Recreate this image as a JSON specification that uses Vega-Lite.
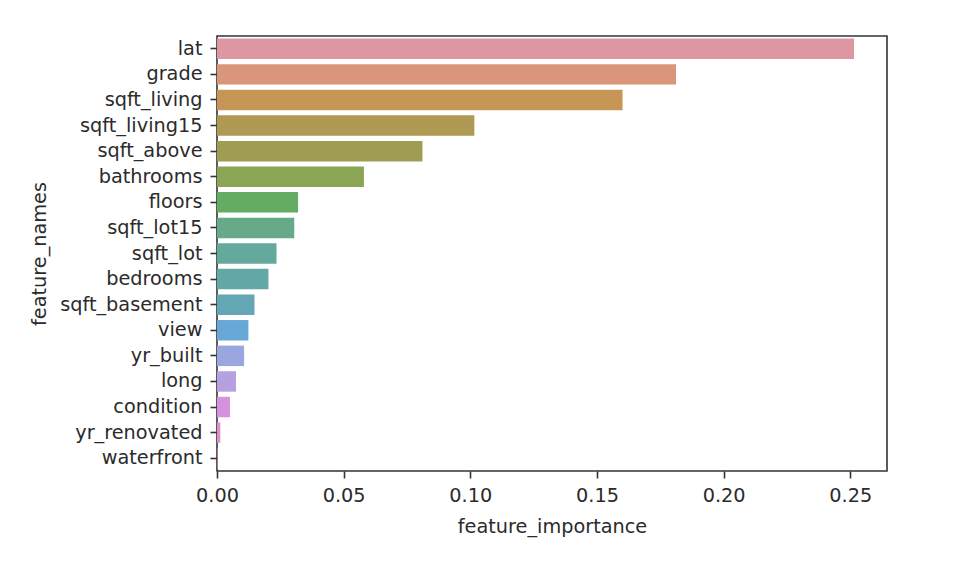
{
  "$schema": "https://vega.github.io/schema/vega-lite/v6.json",
  "autosize": {"type": "none"},
  "width": 670,
  "height": 435,
  "padding": {"left": 217, "top": 36, "right": 79, "bottom": 95},
  "background": "white",
  "config": {
    "font": "DejaVu Sans",
    "view": {"stroke": "#333333", "strokeWidth": 1.6},
    "axis": {
      "labelFont": "DejaVu Sans",
      "titleFont": "DejaVu Sans",
      "labelFontSize": 19.3,
      "titleFontSize": 19.3,
      "titleFontWeight": "normal",
      "labelColor": "#2b2b2b",
      "titleColor": "#2b2b2b",
      "tickColor": "#333333",
      "tickWidth": 1.6,
      "tickSize": 7,
      "labelPadding": 8,
      "labelFlush": false,
      "domain": false,
      "grid": false
    }
  },
  "data": {
    "values": [
      {"feature_names": "lat", "feature_importance": 0.2515, "colour": "#dd97a2"},
      {"feature_names": "grade", "feature_importance": 0.1812, "colour": "#d9967b"},
      {"feature_names": "sqft_living", "feature_importance": 0.1601, "colour": "#c69657"},
      {"feature_names": "sqft_living15", "feature_importance": 0.1016, "colour": "#ae9a52"},
      {"feature_names": "sqft_above", "feature_importance": 0.0811, "colour": "#9f9d51"},
      {"feature_names": "bathrooms", "feature_importance": 0.0580, "colour": "#8aa553"},
      {"feature_names": "floors", "feature_importance": 0.0320, "colour": "#63ac62"},
      {"feature_names": "sqft_lot15", "feature_importance": 0.0305, "colour": "#66aa8a"},
      {"feature_names": "sqft_lot", "feature_importance": 0.0235, "colour": "#64a99b"},
      {"feature_names": "bedrooms", "feature_importance": 0.0203, "colour": "#62a8a6"},
      {"feature_names": "sqft_basement", "feature_importance": 0.0148, "colour": "#63a6b4"},
      {"feature_names": "view", "feature_importance": 0.0124, "colour": "#68a8d7"},
      {"feature_names": "yr_built", "feature_importance": 0.0107, "colour": "#9aa6e0"},
      {"feature_names": "long", "feature_importance": 0.0075, "colour": "#b7a0e0"},
      {"feature_names": "condition", "feature_importance": 0.0051, "colour": "#d690de"},
      {"feature_names": "yr_renovated", "feature_importance": 0.0013, "colour": "#de8fc6"},
      {"feature_names": "waterfront", "feature_importance": 0.0002, "colour": "#df93b0"}
    ]
  },
  "mark": {"type": "bar"},
  "encoding": {
    "y": {
      "field": "feature_names",
      "type": "nominal",
      "sort": null,
      "scale": {"paddingInner": 0.2, "paddingOuter": 0.1},
      "axis": {"title": "feature_names", "titlePadding": 10}
    },
    "x": {
      "field": "feature_importance",
      "type": "quantitative",
      "scale": {"domain": [0, 0.2645], "nice": false, "zero": true},
      "axis": {
        "title": "feature_importance",
        "values": [0, 0.05, 0.1, 0.15, 0.2, 0.25],
        "format": ".2f",
        "titlePadding": 12
      }
    },
    "color": {"field": "colour", "type": "nominal", "scale": null, "legend": null}
  }
}
